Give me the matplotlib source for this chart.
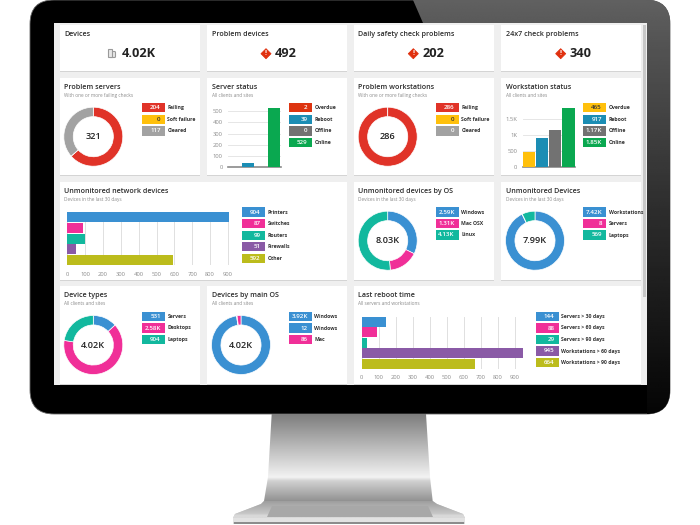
import numpy as np
import matplotlib
matplotlib.use('Agg')
import matplotlib.pyplot as plt
from matplotlib.patches import FancyBboxPatch, Rectangle, Polygon, PathPatch
from matplotlib.path import Path

W, H = 700, 525

# colours
BLUE, PINK, TEAL, PURPLE, OLIVE = '#3a90d2', '#f02f98', '#12b89e', '#8a5aa6', '#bcbc1c'
RED, YELLOW, GRAY = '#e03328', '#ffc00c', '#a2a2a2'
S_RED, S_BLUE, S_GRAY, S_GREEN = '#dd3410', '#1b8db4', '#727272', '#0aa850'

# top tiles
tile_titles = ['Devices', 'Problem devices', 'Daily safety check problems', '24x7 check problems']
tile_values = ['4.02K', '492', '202', '340']

# donuts
problem_servers = [204, 0, 117]
problem_servers_text = ['204', '0', '117']
problem_servers_labels = ['Failing', 'Soft failure', 'Cleared']

problem_ws = [286, 0, 0]
problem_ws_text = ['286', '0', '0']

os_unmon = [2590, 1310, 4130]
os_unmon_text = ['2.59K', '1.31K', '4.13K']
os_unmon_labels = ['Windows', 'Mac OSX', 'Linux']

unmon = [7420, 8, 569]
unmon_text = ['7.42K', '8', '569']
unmon_labels = ['Workstations', 'Servers', 'Laptops']

dev_types = [531, 2580, 904]
dev_types_text = ['531', '2.58K', '904']
dev_types_labels = ['Servers', 'Desktops', 'Laptops']

main_os = [3920, 12, 86]
main_os_text = ['3.92K', '12', '86']
main_os_labels = ['Windows', 'Windows', 'Mac']

# column charts
status_labels = ['Overdue', 'Reboot', 'Offline', 'Online']
server_status = [2, 39, 0, 529]
server_status_text = ['2', '39', '0', '529']
ws_status = [465, 917, 1170, 1850]
ws_status_text = ['465', '917', '1.17K', '1.85K']

# bar charts
network = [904, 87, 99, 51, 592]
network_text = ['904', '87', '99', '51', '592']
network_labels = ['Printers', 'Switches', 'Routers', 'Firewalls', 'Other']

reboot = [144, 88, 29, 945, 664]
reboot_text = ['144', '88', '29', '945', '664']
reboot_labels = ['Servers > 30 days', 'Servers > 60 days', 'Servers > 90 days',
                 'Workstations > 60 days', 'Workstations > 90 days']

plt.rcParams['font.family'] = ['Open Sans', 'DejaVu Sans']

fig = plt.figure(figsize=(7, 5.25), dpi=100, facecolor='white')
base = fig.add_axes([0, 0, 1, 1], zorder=0)
base.set_xlim(0, W)
base.set_ylim(H, 0)
base.axis('off')


def inset(x0, y0, x1, y1):
    a = fig.add_axes([x0 / W, 1 - y1 / H, (x1 - x0) / W, (y1 - y0) / H], zorder=2)
    a.patch.set_alpha(0)
    return a


def gradient(stops, extent, clip, z=1):
    ys = np.linspace(0, 1, 200)
    vals = np.interp(ys, [s[0] for s in stops], [s[1] for s in stops])
    im = base.imshow(vals[:, None], cmap='gray', vmin=0, vmax=1, extent=extent,
                     aspect='auto', zorder=z)
    im.set_clip_path(clip)


def card(x0, y0, x1, y1, title, sub=None):
    base.add_patch(Rectangle((x0, y0 + 1), x1 - x0, y1 - y0, fc='#d4d4d4', ec='none', zorder=4))
    base.add_patch(Rectangle((x0, y0), x1 - x0, y1 - y0, fc='white', ec='none', zorder=5))
    base.text(x0 + 4.5, y0 + 9.5, title, fontsize=5.1, weight=600, color='#2c2c2c',
              va='center', ha='left', zorder=6)
    if sub:
        base.text(x0 + 4.5, y0 + 17.5, sub, fontsize=3.4, color='#8c8c8c',
                  va='center', ha='left', zorder=6)


def legend(x0, ys, colors, texts, labels):
    for y, c, t, l in zip(ys, colors, texts, labels):
        base.add_patch(Rectangle((x0, y - 4.6), 23, 9.2, fc=c, ec='none', zorder=6))
        tc = '#333333' if c == YELLOW else 'white'
        base.text(x0 + 19, y, t, fontsize=4.5, weight=600, color=tc, ha='right', va='center', zorder=7)
        base.text(x0 + 25.7, y, l, fontsize=3.7, weight=700, color='#333333', ha='left', va='center', zorder=7)


def donut(cx, cy, values, colors, center, r=29.5):
    a = inset(cx - r, cy - r, cx + r, cy + r)
    a.pie(values, colors=colors, startangle=90, counterclock=False, radius=1,
          wedgeprops={'width': 0.32, 'edgecolor': 'white', 'linewidth': 0.5})
    a.set_xlim(-1, 1)
    a.set_ylim(-1, 1)
    a.text(0, 0, center, fontsize=6.6, weight=600, color='#222222', ha='center', va='center')


def columns(x0, x1, values, colors, ticks, tick_labels, per_px):
    # y=0 sits at 167.3 px, the top of the axes at 105 px
    a = inset(x0, 105, x1, 167.3)
    a.bar(range(len(values)), values, width=0.93, color=colors, zorder=3)
    a.set_xlim(-0.5, len(values) - 0.5)
    a.set_ylim(0, 62.3 * per_px)
    a.set_yticks(ticks, tick_labels)
    a.tick_params(axis='y', length=0, labelsize=4.2, labelcolor='#8c8c8c', pad=4)
    a.set_xticks([])
    a.grid(axis='y', color='#e6e6e6', lw=0.7, zorder=0)
    for s in a.spines.values():
        s.set_visible(False)
    a.spines['bottom'].set_visible(True)
    a.spines['bottom'].set_color('#8a8a8a')
    a.spines['bottom'].set_linewidth(1.2)


def hbars(x0, x1, y0, y1, values, colors, xmax):
    a = inset(x0, y0, x1, y1)
    a.barh(range(len(values)), values, height=0.92, color=colors, zorder=3)
    a.set_ylim(len(values) - 0.5, -0.5)
    a.set_xlim(0, xmax)
    a.set_xticks(range(0, 901, 100))
    a.set_yticks([])
    a.tick_params(axis='x', length=0, labelsize=4.2, labelcolor='#8c8c8c', pad=4.5)
    a.grid(axis='x', color='#e0e0e0', lw=0.7, zorder=0)
    for s in a.spines.values():
        s.set_visible(False)


def diamond(cx, cy):
    base.add_patch(Polygon([(cx - 5, cy), (cx, cy - 5), (cx + 5, cy), (cx, cy + 5)],
                           fc='#e0300e', ec='#e0300e', lw=0.6, joinstyle='round', zorder=6))
    base.text(cx, cy - 0.1, '!', fontsize=5, weight='bold', color='white', ha='center', va='center', zorder=7)


# monitor body
body = FancyBboxPatch((30 + 22, 0 + 22), 640 - 44, 414 - 44, boxstyle='round,pad=22,rounding_size=24',
                      fc='black', ec='#666666', lw=0.6, zorder=1)
base.add_patch(body)
gradient([(0, .38), (.1, .33), (.5, .18), (1, .02)], (647, 670, 414, 0), body, z=1.5)
top_strip = PathPatch(Path([(413, 0), (423, 23), (670, 23), (670, 24), (670, 0), (646, 0), (413, 0)],
                           [Path.MOVETO, Path.LINETO, Path.LINETO, Path.LINETO,
                            Path.CURVE3, Path.CURVE3, Path.LINETO]),
                      fc='none', ec='none')
base.add_patch(top_strip)
gradient([(0, .38), (1, .35)], (413, 670, 24, 0), top_strip, z=1.6)
base.add_patch(Rectangle((53.5, 23), 593, 361.5, fc='#efefef', ec='none', zorder=2))
base.add_patch(Rectangle((643, 25), 2.5, 272, fc='#c8c8c8', ec='none', zorder=3))

# stand neck
neck = PathPatch(Path([(271.7, 414), (426, 414), (430, 477), (432.7, 501), (264, 501), (268, 477), (271.7, 414)]),
                 fc='none', ec='none', zorder=1)
base.add_patch(neck)
gradient([(0, .49), (.72, .95), (.76, .82), (1, .56)], (260, 440, 502, 414), neck)

# stand base
foot = PathPatch(Path([(264, 501), (432.7, 501), (437, 504), (463, 514), (465, 518), (465, 524),
                       (233, 524), (233, 518), (235, 514), (261, 504), (264, 501)]),
                 fc='#c8c8c8', ec='none', zorder=1)
base.add_patch(foot)
gradient([(0, .62), (.55, .78), (.62, .85), (1, .85)], (230, 468, 524, 501), foot)
mid = Polygon([(272, 506), (428, 506), (433, 517), (267, 517)], fc='#a8a8a8', ec='none', zorder=1.2)
base.add_patch(mid)
base.add_patch(Rectangle((233, 517.5), 232, 4.5, fc='#e2e2e2', ec='none', zorder=1.3))
base.add_patch(Rectangle((234, 522), 230, 2, fc='#8c8c8c', ec='none', zorder=1.3))

# row 1
tile_cols = [(60, 200), (207, 347), (354, 494), (501, 641)]
for (x0, x1), t in zip(tile_cols, tile_titles):
    card(x0, 25, x1, 71, t)
num_x = [121.7, 275, 422.3, 569.3]
for x, v in zip(num_x, tile_values):
    base.text(x, 53.5, v, fontsize=9.2, weight='bold', color='#222222', ha='left', va='center', zorder=6)
for x in [266, 413.3, 560.7]:
    diamond(x, 53.7)
# printer style icon on the first tile
base.add_patch(FancyBboxPatch((110, 52), 5, 5, boxstyle='round,pad=0.5,rounding_size=1',
                              fc='#e8e8e8', ec='#9a9a9a', lw=0.8, zorder=6))
base.add_patch(Rectangle((108, 49), 4, 8, fc='#e8e8e8', ec='#9a9a9a', lw=0.8, zorder=6))

# row 2
card(60, 78, 200, 175, 'Problem servers', 'With one or more failing checks')
donut(93.3, 136.7, problem_servers, [RED, YELLOW, GRAY], '321')
legend(141.7, [107.7, 119.3, 131], [RED, YELLOW, GRAY], problem_servers_text, problem_servers_labels)

card(207, 78, 347, 175, 'Server status', 'All clients and sites')
columns(228.3, 280.7, server_status, [S_RED, S_BLUE, S_GRAY, S_GREEN],
        [0, 100, 200, 300, 400, 500], ['0', '100', '200', '300', '400', '500'], 500 / 56.3)
legend(288.7, [107.7, 119.3, 131, 142.3], [S_RED, S_BLUE, S_GRAY, S_GREEN], server_status_text, status_labels)

card(354, 78, 494, 175, 'Problem workstations', 'With one or more failing checks')
donut(387.7, 136.7, problem_ws, [RED, YELLOW, GRAY], '286')
legend(435.7, [107.7, 119.3, 131], [RED, YELLOW, GRAY], problem_ws_text, problem_servers_labels)

card(501, 78, 641, 175, 'Workstation status', 'All clients and sites')
columns(522.7, 575, ws_status, [YELLOW, S_BLUE, S_GRAY, S_GREEN],
        [0, 500, 1000, 1500], ['0', '500', '1K', '1.5K'], 500 / 16.1)
legend(583, [107.7, 119.3, 131, 142.3], [YELLOW, S_BLUE, S_GRAY, S_GREEN], ws_status_text, status_labels)

# row 3
bar_colors = [BLUE, PINK, TEAL, PURPLE, OLIVE]
card(60, 182, 347, 280, 'Unmonitored network devices', 'Devices in the last 30 days')
hbars(67.3, 229.9, 212, 265.3, network, bar_colors, 162.6 / 0.1785)
legend(241.7, [212, 223.7, 235.3, 246.7, 258.3], bar_colors, network_text, network_labels)

card(354, 182, 494, 280, 'Unmonitored devices by OS', 'Devices in the last 30 days')
donut(387.7, 240.7, os_unmon, [BLUE, PINK, TEAL], '8.03K')
legend(435.7, [212, 223.7, 235], [BLUE, PINK, TEAL], os_unmon_text, os_unmon_labels)

card(501, 182, 641, 280, 'Unmonitored Devices', 'Devices in the last 30 days')
donut(535, 240.7, unmon, [BLUE, PINK, TEAL], '7.99K')
legend(583, [212, 223.7, 235], [BLUE, PINK, TEAL], unmon_text, unmon_labels)

# row 4
card(60, 286, 200, 383.5, 'Device types', 'All clients and sites')
donut(93.3, 345, dev_types, [BLUE, PINK, TEAL], '4.02K')
legend(141.7, [316.3, 328, 339.7], [BLUE, PINK, TEAL], dev_types_text, dev_types_labels)

card(207, 286, 347, 383.5, 'Devices by main OS', 'All clients and sites')
donut(241, 345, main_os, [BLUE, BLUE, PINK], '4.02K')
legend(288.7, [316.3, 328, 339.7], [BLUE, BLUE, PINK], main_os_text, main_os_labels)

card(354, 286, 641, 383.5, 'Last reboot time', 'All servers and workstations')
hbars(361.7, 523.5, 316.5, 369, reboot, bar_colors, 161.8 / 0.1704)
legend(535.7, [316.3, 328, 339.7, 351, 362.7], bar_colors, reboot_text, reboot_labels)

fig.savefig('out.png', dpi=100)
